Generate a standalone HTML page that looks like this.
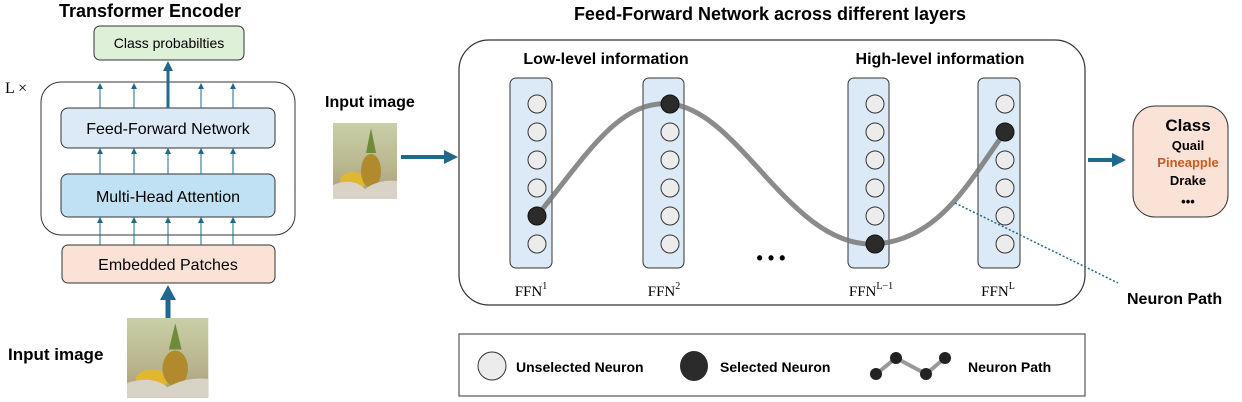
<!DOCTYPE html>
<html><head><meta charset="utf-8"><style>
body{margin:0;background:#fff;}
svg{display:block;font-family:"Liberation Sans",sans-serif;}
.b{font-weight:bold;}
</style></head><body>
<svg width="1242" height="402" viewBox="0 0 1242 402" xmlns="http://www.w3.org/2000/svg">
<defs>
<marker id="ah" markerWidth="6" markerHeight="6" refX="5" refY="3" orient="auto" markerUnits="userSpaceOnUse"><path d="M0,0 L6,3 L0,6z" fill="#1f6a8c"/></marker>
<linearGradient id="bg" x1="0" y1="0" x2="0" y2="1"><stop offset="0" stop-color="#c9cfa8"/><stop offset="0.6" stop-color="#b8b58c"/><stop offset="1" stop-color="#a89a80"/></linearGradient>
<g id="img">
<rect width="64" height="76" fill="url(#bg)"/>
<ellipse cx="20" cy="58" rx="13" ry="9" fill="#e0b830"/>
<ellipse cx="38" cy="48" rx="10" ry="17" fill="#b08a2c"/>
<path d="M33,30 L38,5 L43,30z" fill="#6f8a3a"/>
<path d="M0,62 Q20,54 32,66 Q46,56 64,58 L64,76 L0,76z" fill="#d9d2c6"/>
</g>
</defs>

<text x="150" y="17" text-anchor="middle" class="b" font-size="18">Transformer Encoder</text>
<rect x="94" y="26" width="150" height="34" rx="6" fill="#dff0d8" stroke="#333" stroke-width="1"/>
<text x="169" y="48" text-anchor="middle" font-size="14">Class probabilties</text>
<text x="5" y="93" font-size="16" font-family="Liberation Serif">L ×</text>
<rect x="41" y="82" width="254" height="153" rx="20" fill="#fff" stroke="#333" stroke-width="1"/>
<rect x="61" y="108" width="214" height="40" rx="7" fill="#dce9f6" stroke="#333" stroke-width="1"/>
<text x="168" y="134" text-anchor="middle" font-size="16">Feed-Forward Network</text>
<rect x="61" y="174" width="214" height="43" rx="7" fill="#bfe1f3" stroke="#333" stroke-width="1"/>
<text x="168" y="202" text-anchor="middle" font-size="16">Multi-Head Attention</text>
<rect x="62" y="245" width="213" height="38" rx="6" fill="#fbe2d6" stroke="#333" stroke-width="1"/>
<text x="168" y="270" text-anchor="middle" font-size="16">Embedded Patches</text>
<g stroke="#1f6a8c" stroke-width="1" marker-end="url(#ah)">
<line x1="100" y1="245" x2="100" y2="218"/><line x1="134" y1="245" x2="134" y2="218"/><line x1="168" y1="245" x2="168" y2="218"/><line x1="201" y1="245" x2="201" y2="218"/><line x1="233" y1="245" x2="233" y2="218"/>
<line x1="100" y1="174" x2="100" y2="149"/><line x1="134" y1="174" x2="134" y2="149"/><line x1="168" y1="174" x2="168" y2="149"/><line x1="201" y1="174" x2="201" y2="149"/><line x1="233" y1="174" x2="233" y2="149"/>
<line x1="100" y1="108" x2="100" y2="84"/><line x1="134" y1="108" x2="134" y2="84"/><line x1="201" y1="108" x2="201" y2="84"/><line x1="233" y1="108" x2="233" y2="84"/>
</g>
<line x1="168" y1="108" x2="168" y2="70" stroke="#1f6a8c" stroke-width="3"/>
<path d="M163,71 L168,61 L173,71z" fill="#1f6a8c"/>
<line x1="168" y1="318" x2="168" y2="298" stroke="#1f6a8c" stroke-width="5"/>
<path d="M160,300 L168,285 L176,300z" fill="#1f6a8c"/>
<use href="#img" transform="translate(127,318) scale(1.27,1.05)"/>
<text x="8" y="360" class="b" font-size="17">Input image</text>

<text x="325" y="107" class="b" font-size="16">Input image</text>
<use href="#img" transform="translate(333,123)"/>
<line x1="401" y1="157" x2="446" y2="157" stroke="#1f6a8c" stroke-width="4"/>
<path d="M444,150 L458,157 L444,164z" fill="#1f6a8c"/>

<text x="770" y="20" text-anchor="middle" class="b" font-size="18">Feed-Forward Network across different layers</text>
<rect x="459" y="40" width="626" height="265" rx="30" fill="#fff" stroke="#333" stroke-width="1.2"/>
<text x="606" y="64" text-anchor="middle" class="b" font-size="16">Low-level information</text>
<text x="940" y="64" text-anchor="middle" class="b" font-size="16">High-level information</text>

<g fill="#dce9f6" stroke="#333" stroke-width="1">
<rect x="510" y="78" width="42" height="190" rx="6"/>
<rect x="643" y="78" width="41" height="190" rx="6"/>
<rect x="848" y="78" width="41" height="190" rx="6"/>
<rect x="978" y="78" width="42" height="190" rx="6"/>
</g>
<g fill="#ececec" stroke="#333" stroke-width="1">
<circle cx="537" cy="104" r="9"/><circle cx="537" cy="132" r="9"/><circle cx="537" cy="160" r="9"/><circle cx="537" cy="188" r="9"/><circle cx="537" cy="244" r="9"/>
<circle cx="670" cy="132" r="9"/><circle cx="670" cy="160" r="9"/><circle cx="670" cy="188" r="9"/><circle cx="670" cy="216" r="9"/><circle cx="670" cy="244" r="9"/>
<circle cx="875" cy="104" r="9"/><circle cx="875" cy="132" r="9"/><circle cx="875" cy="160" r="9"/><circle cx="875" cy="188" r="9"/><circle cx="875" cy="216" r="9"/>
<circle cx="1005" cy="104" r="9"/><circle cx="1005" cy="160" r="9"/><circle cx="1005" cy="188" r="9"/><circle cx="1005" cy="216" r="9"/><circle cx="1005" cy="244" r="9"/>
</g>
<path d="M537,216 C590,150 620,100 670,104 C740,110 790,248 875,244 C940,240 970,180 1005,132" fill="none" stroke="#777" stroke-width="5" stroke-opacity="0.85"/>
<g fill="#2b2b2b" stroke="#111" stroke-width="1">
<circle cx="537" cy="216" r="9"/><circle cx="670" cy="104" r="9"/><circle cx="875" cy="244" r="9"/><circle cx="1005" cy="132" r="9"/>
</g>
<text x="771" y="264" text-anchor="middle" class="b" font-size="18">• • •</text>
<g font-family="Liberation Serif" font-size="15" text-anchor="middle">
<text x="531" y="296">FFN<tspan font-size="10" dy="-7">1</tspan></text>
<text x="664" y="296">FFN<tspan font-size="10" dy="-7">2</tspan></text>
<text x="871" y="296">FFN<tspan font-size="10" dy="-7">L−1</tspan></text>
<text x="998" y="296">FFN<tspan font-size="10" dy="-7">L</tspan></text>
</g>
<line x1="955" y1="203" x2="1118" y2="283" stroke="#1f6a8c" stroke-width="1.5" stroke-dasharray="2,2"/>
<text x="1127" y="304" class="b" font-size="16">Neuron Path</text>

<line x1="1088" y1="160" x2="1114" y2="160" stroke="#1f6a8c" stroke-width="4"/>
<path d="M1112,153 L1126,160 L1112,167z" fill="#1f6a8c"/>
<rect x="1133" y="106" width="95" height="111" rx="22" fill="#fbe2d6" stroke="#333" stroke-width="1"/>
<g text-anchor="middle" class="b">
<text x="1188" y="131" font-size="17">Class</text>
<text x="1188" y="150" font-size="13">Quail</text>
<text x="1188" y="167" font-size="13" fill="#c55a22">Pineapple</text>
<text x="1188" y="185" font-size="13">Drake</text>
<text x="1188" y="206" font-size="13">•••</text>
</g>

<rect x="459" y="334" width="626" height="62" fill="#fff" stroke="#333" stroke-width="1"/>
<ellipse cx="492" cy="366" rx="14" ry="14" fill="#ececec" stroke="#333" stroke-width="1"/>
<text x="516" y="372" class="b" font-size="14">Unselected Neuron</text>
<ellipse cx="694" cy="366" rx="14" ry="15" fill="#2b2b2b"/>
<text x="720" y="372" class="b" font-size="14">Selected Neuron</text>
<polyline points="876,374 896,358 926,374 945,358" fill="none" stroke="#999" stroke-width="4"/>
<g fill="#222"><circle cx="876" cy="374" r="6"/><circle cx="896" cy="358" r="6"/><circle cx="926" cy="374" r="6"/><circle cx="945" cy="358" r="6"/></g>
<text x="968" y="372" class="b" font-size="14">Neuron Path</text>
</svg>
</body></html>
